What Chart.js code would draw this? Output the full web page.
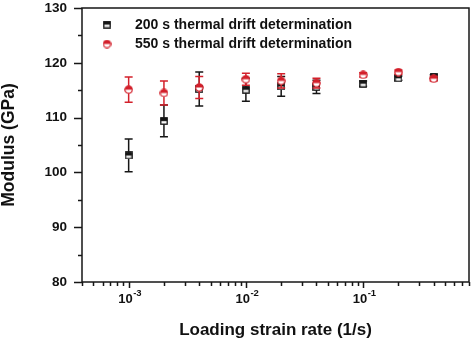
<!DOCTYPE html>
<html>
<head>
<meta charset="utf-8">
<title>Modulus vs loading strain rate</title>
<script src="https://cdn.jsdelivr.net/npm/chart.js@4.4.1/dist/chart.umd.min.js"></script>
<style>
    html, body { margin: 0; padding: 0; background: #fff; }
    #wrap { width: 474px; height: 341px; }
</style>
</head>
<body>
<div id="wrap"><canvas id="moduluschart" width="474" height="341"></canvas></div>
<script>
"use strict";

/* loading strain rates, 1/s */
var strainRates = [0.001, 0.002, 0.004, 0.01, 0.02, 0.04, 0.1, 0.2, 0.4];

/* 200 s thermal drift determination, GPa */
var modulus200 = [103.1, 109.4, 115.2, 115.1, 115.7, 115.6, 116.2, 117.2, 117.5];
var error200 = [3.0, 2.9, 3.1, 2.1, 1.8, 1.2, 0.5, 0.4, 0.3];

/* 550 s thermal drift determination, GPa */
var modulus550 = [115.1, 114.5, 115.5, 117.0, 116.7, 116.3, 117.8, 118.3, 117.1];
var error550 = [2.3, 2.2, 2.0, 1.1, 1.3, 0.9, 0.4, 0.4, 0.4];

var seriesLabels = ['200 s thermal drift determination', '550 s thermal drift determination'];
var yMajorTicks = [80, 90, 100, 110, 120, 130];
var xDecades = [0.001, 0.01, 0.1];
var xDecadeExponents = ['-3', '-2', '-1'];

var FONT = "'Liberation Sans', Arial, Helvetica, sans-serif";
var BLACK = '#161616';
var RED = '#d3202b';

/* half filled markers */
function halfSquare(color) {
    var c = document.createElement('canvas');
    c.width = 8; c.height = 8;
    var ctx = c.getContext('2d');
    ctx.fillStyle = '#fff';
    ctx.fillRect(0.8, 0.8, 6.4, 6.4);
    ctx.fillStyle = color;
    ctx.fillRect(0.8, 0.8, 6.4, 3.4);
    ctx.strokeStyle = color;
    ctx.lineWidth = 1.3;
    ctx.strokeRect(0.8, 0.8, 6.4, 6.4);
    return c;
}
function halfCircle(color) {
    var c = document.createElement('canvas');
    c.width = 9; c.height = 9;
    var ctx = c.getContext('2d');
    ctx.fillStyle = '#fff';
    ctx.beginPath(); ctx.arc(4.5, 4.5, 3.7, 0, Math.PI * 2); ctx.fill();
    ctx.fillStyle = color;
    ctx.beginPath(); ctx.arc(4.5, 4.5, 3.7, Math.PI, Math.PI * 2); ctx.closePath(); ctx.fill();
    ctx.strokeStyle = color;
    ctx.lineWidth = 1.2;
    ctx.beginPath(); ctx.arc(4.5, 4.5, 3.7, 0, Math.PI * 2); ctx.stroke();
    return c;
}
var squareMarker = halfSquare(BLACK);
var circleMarker = halfCircle(RED);

function toPoints(ys) {
    return strainRates.map(function (x, i) { return { x: x, y: ys[i] }; });
}

/* vertical error bars with caps, drawn just before their dataset */
var errorBars = {
    id: 'errorBars',
    beforeDatasetDraw: function (chart, args) {
        var ds = chart.data.datasets[args.index];
        if (!ds.errors) return;
        var ctx = chart.ctx, xs = chart.scales.x, ys = chart.scales.y;
        ctx.save();
        ctx.strokeStyle = ds.borderColor;
        ctx.lineWidth = 1.5;
        ds.data.forEach(function (p, i) {
            var px = xs.getPixelForValue(p.x);
            var top = ys.getPixelForValue(p.y + ds.errors[i]);
            var bot = ys.getPixelForValue(p.y - ds.errors[i]);
            ctx.beginPath();
            ctx.moveTo(px, top); ctx.lineTo(px, bot);
            ctx.moveTo(px - 4, top); ctx.lineTo(px + 4, top);
            ctx.moveTo(px - 4, bot); ctx.lineTo(px + 4, bot);
            ctx.stroke();
        });
        ctx.restore();
    }
};

/* boxed frame with outward major and minor ticks, plus 10^n decade labels */
var frameTicks = {
    id: 'frameTicks',
    afterDraw: function (chart) {
        var ctx = chart.ctx, a = chart.chartArea;
        var xs = chart.scales.x, ys = chart.scales.y;
        ctx.save();
        ctx.strokeStyle = BLACK;
        ctx.lineWidth = 1.5;
        ctx.strokeRect(a.left, a.top, a.right - a.left, a.bottom - a.top);
        ctx.beginPath();
        // y ticks
        for (var v = ys.min; v <= ys.max + 0.01; v += 5) {
            var py = Math.round(ys.getPixelForValue(v)) + 0.5;
            var len = yMajorTicks.indexOf(v) >= 0 ? 8 : 4;
            ctx.moveTo(a.left - len, py); ctx.lineTo(a.left, py);
        }
        // x ticks, log decades with 2..9 minors
        for (var e = -4; e <= 0; e++) {
            for (var m = 1; m <= 9; m++) {
                var val = m * Math.pow(10, e);
                if (val < xs.min * 0.999 || val > xs.max * 1.001) continue;
                var px = Math.round(xs.getPixelForValue(val)) + 0.5;
                var l = m === 1 ? 6 : 4;
                ctx.moveTo(px, a.bottom); ctx.lineTo(px, a.bottom + l);
            }
        }
        ctx.stroke();

        // decade labels with raised exponent
        ctx.fillStyle = '#111';
        ctx.textBaseline = 'alphabetic';
        xDecades.forEach(function (d, i) {
            var cx = xs.getPixelForValue(d);
            ctx.font = 'bold 13px ' + FONT;
            var wb = ctx.measureText('10').width;
            ctx.font = 'bold 9.5px ' + FONT;
            var we = ctx.measureText(xDecadeExponents[i]).width;
            var x0 = cx - (wb + we) / 2 + 1;
            ctx.font = 'bold 13px ' + FONT;
            ctx.fillText('10', x0, a.bottom + 21);
            ctx.font = 'bold 9.5px ' + FONT;
            ctx.fillText(xDecadeExponents[i], x0 + wb + 0.5, a.bottom + 13.5);
        });
        ctx.restore();
    }
};

/* legend inside the plot, upper left */
var insideLegend = {
    id: 'insideLegend',
    afterDraw: function (chart) {
        var ctx = chart.ctx;
        ctx.save();
        ctx.font = 'bold 14px ' + FONT;
        ctx.fillStyle = '#111';
        ctx.textBaseline = 'middle';
        chart.data.datasets.forEach(function (ds, i) {
            var y = 24.5 + i * 19.5;
            var img = ds.pointStyle;
            ctx.drawImage(img, 107 - img.width / 2, y - img.height / 2);
            ctx.fillText(ds.label, 135, y + 0.5);
        });
        ctx.restore();
    }
};

var ctx = document.getElementById('moduluschart').getContext('2d');
var modulusChart = new Chart(ctx, {
    type: 'scatter',
    data: {
        datasets: [{
            label: seriesLabels[0],
            data: toPoints(modulus200),
            errors: error200,
            borderColor: BLACK,
            backgroundColor: BLACK,
            pointStyle: squareMarker,
            order: 1
        }, {
            label: seriesLabels[1],
            data: toPoints(modulus550),
            errors: error550,
            borderColor: RED,
            backgroundColor: RED,
            pointStyle: circleMarker,
            order: 0
        }]
    },
    options: {
        responsive: false,
        devicePixelRatio: 1,
        animation: false,
        layout: { padding: { top: 8, right: -2, left: 0, bottom: 0 } },
        plugins: {
            legend: { display: false },
            tooltip: { enabled: false }
        },
        scales: {
            x: {
                type: 'logarithmic',
                min: 0.0004,
                max: 0.8,
                afterFit: function (scale) {
                    scale.height = 59;
                    scale.paddingLeft = 0;
                    scale.paddingRight = 0;
                },
                grid: { display: false, drawTicks: false },
                border: { display: false },
                ticks: { display: false },
                title: {
                    display: true,
                    text: 'Loading strain rate (1/s)',
                    color: '#111',
                    font: { family: FONT, size: 17, weight: 'bold' },
                    padding: { top: 0, bottom: 0 }
                }
            },
            y: {
                min: 80,
                max: 130,
                afterFit: function (scale) {
                    scale.width = 82;
                    scale.paddingTop = 0;
                    scale.paddingBottom = 0;
                },
                grid: { display: false, drawTicks: false },
                border: { display: false },
                ticks: {
                    stepSize: 10,
                    padding: 15,
                    color: '#111',
                    font: { family: FONT, size: 13.5, weight: 'bold' }
                },
                title: {
                    display: true,
                    text: 'Modulus (GPa)',
                    color: '#111',
                    font: { family: FONT, size: 17.5, weight: 'bold', lineHeight: 1.1 },
                    padding: { top: 0, bottom: 0 }
                }
            }
        }
    },
    plugins: [errorBars, frameTicks, insideLegend]
});
</script>
</body>
</html>
